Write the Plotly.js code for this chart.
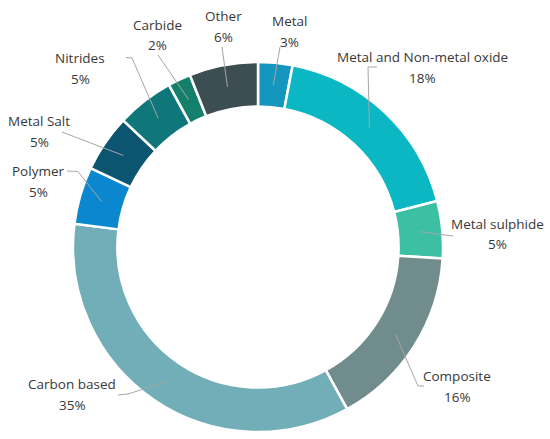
<!DOCTYPE html>
<html>
<head>
<meta charset="utf-8">
<script src="https://cdn.plot.ly/plotly-3.0.1.min.js"></script>
<style>
  html, body { margin: 0; padding: 0; background: #fff; }
  #chart { width: 550px; height: 439px; }
</style>
</head>
<body>
<div id="chart"></div>
<script>
// categories, clockwise from 12 o'clock
const categories = ['Metal', 'Metal and Non-metal oxide', 'Metal sulphide', 'Composite',
  'Carbon based', 'Polymer', 'Metal Salt', 'Nitrides', 'Carbide', 'Other'];
const shares = [3, 18, 5, 16, 35, 5, 5, 5, 2, 6];
const colors = ['#1596BF', '#0BB7C3', '#3DBFA4', '#718C8D', '#71AEB8',
  '#0A87CF', '#0B5570', '#0F7779', '#14806B', '#3D4E52'];

// label placement (pixels): label centre, leader bend point, leader end point
const labelAt = [[289, 32], [422, 67.5], [497, 234], [457, 386.5], [72, 394],
  [38, 181], [39, 131.5], [80, 68], [157, 35], [223, 26.5]];
const leaderBend = [null, [368, 67], null, [418, 386], [128, 394],
  [78, 171.5], null, [132, 58], null, null];
const leaderEnd = [[280, 47], [377, 67], [453, 236], [424, 386], [118, 395],
  [67, 171], [62, 132], [126, 57.5], [158, 55], [222, 47]];

const W = 550, H = 439;
const M = {l: 73, r: 107, t: 62, b: 7};
const R = (W - M.l - M.r) / 2;           // outer radius in px
const HOLE = 0.76;
const cx = M.l + R, cy = M.t + R;
const rMid = R * (1 + HOLE) / 2;

const px2x = p => (p - M.l) / (2 * R);
const py2y = p => 1 - (p - M.t) / (2 * R);

const total = shares.reduce((a, b) => a + b, 0);
const shapes = [], annotations = [];
let acc = 0;
shares.forEach((v, i) => {
  const mid = (acc + v / 2) / total * 2 * Math.PI;
  acc += v;
  const tip = [cx + rMid * Math.sin(mid), cy - rMid * Math.cos(mid)];
  const pts = [tip];
  if (leaderBend[i]) pts.push(leaderBend[i]);
  pts.push(leaderEnd[i]);
  for (let k = 0; k < pts.length - 1; k++) {
    shapes.push({type: 'line', xref: 'paper', yref: 'paper',
      x0: px2x(pts[k][0]), y0: py2y(pts[k][1]),
      x1: px2x(pts[k + 1][0]), y1: py2y(pts[k + 1][1]),
      line: {color: '#A6A6A6', width: 1}});
  }
  const [lx, ly] = labelAt[i];
  [[categories[i], ly - 10.5], [v + '%', ly + 10.5]].forEach(([t, yy]) => {
    annotations.push({text: t, xref: 'paper', yref: 'paper',
      x: px2x(lx), y: py2y(yy), xanchor: 'center', yanchor: 'middle',
      showarrow: false, font: {size: 13.5, color: '#383838'}});
  });
});

Plotly.newPlot('chart', [{
  type: 'pie',
  labels: categories,
  values: shares,
  sort: false,
  direction: 'clockwise',
  rotation: 0,
  hole: HOLE,
  marker: {colors: colors, line: {color: '#ffffff', width: 2.5}},
  textinfo: 'none',
  hoverinfo: 'label+percent',
  showlegend: false
}], {
  width: W, height: H,
  margin: M,
  paper_bgcolor: '#ffffff',
  font: {family: '"Open Sans", "Noto Sans", sans-serif', color: '#383838'},
  shapes: shapes,
  annotations: annotations
}, {displayModeBar: false});
</script>
</body>
</html>
